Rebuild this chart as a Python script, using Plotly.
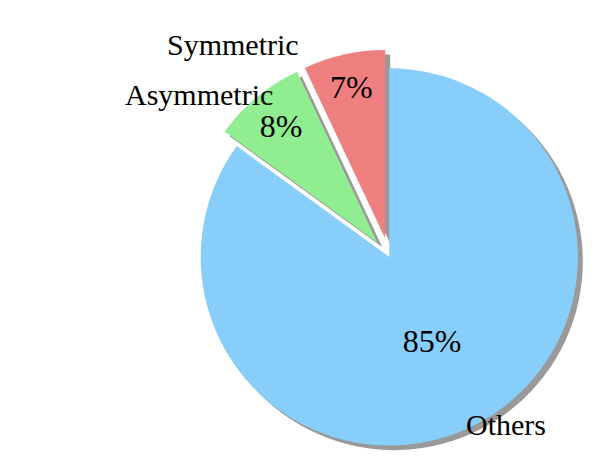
import plotly.graph_objects as go

labels = ["Others", "Asymmetric", "Symmetric"]
values = [85, 8, 7]
pulls = [0, 0.1, 0.1]
colors = ["#87CEFA", "#90EE90", "#F08080"]

dom_x = [0.28, 0.96]
dom_y = [0.01, 0.91]
fig = go.Figure()
fig.add_trace(go.Pie(labels=labels, values=values, pull=pulls, sort=False,
                     direction="clockwise", rotation=0,
                     marker=dict(colors=["#999999"] * 3, line=dict(width=0)),
                     textinfo="none", hoverinfo="skip", showlegend=False,
                     domain=dict(x=[dom_x[0] + 0.008, dom_x[1] + 0.008], y=[dom_y[0] - 0.01, dom_y[1] - 0.01])))
fig.add_trace(go.Pie(labels=labels, values=values, pull=pulls, sort=False,
                     direction="clockwise", rotation=0,
                     marker=dict(colors=colors, line=dict(width=0)),
                     texttemplate="%{percent:.0%}", textposition="inside",
                     insidetextorientation="horizontal",
                     textfont=dict(family="Liberation Serif", size=32, color="black"),
                     showlegend=False, domain=dict(x=dom_x, y=dom_y)))
font = dict(family="Liberation Serif", size=30, color="black")
fig.add_annotation(x=225 / 615, y=1 - 18 / 461, text="Symmetric", showarrow=False, xref="paper", yref="paper", font=font)
fig.add_annotation(x=115 / 615, y=1 - 68 / 461, text="Asymmetric", showarrow=False, xref="paper", yref="paper", font=font)
fig.add_annotation(x=540 / 615, y=1 - 435 / 461, text="Others", showarrow=False, xref="paper", yref="paper", font=font)
fig.update_layout(width=615, height=461, margin=dict(l=0, r=0, t=0, b=0),
                  paper_bgcolor="white", plot_bgcolor="white")
fig.write_html("out.html")
